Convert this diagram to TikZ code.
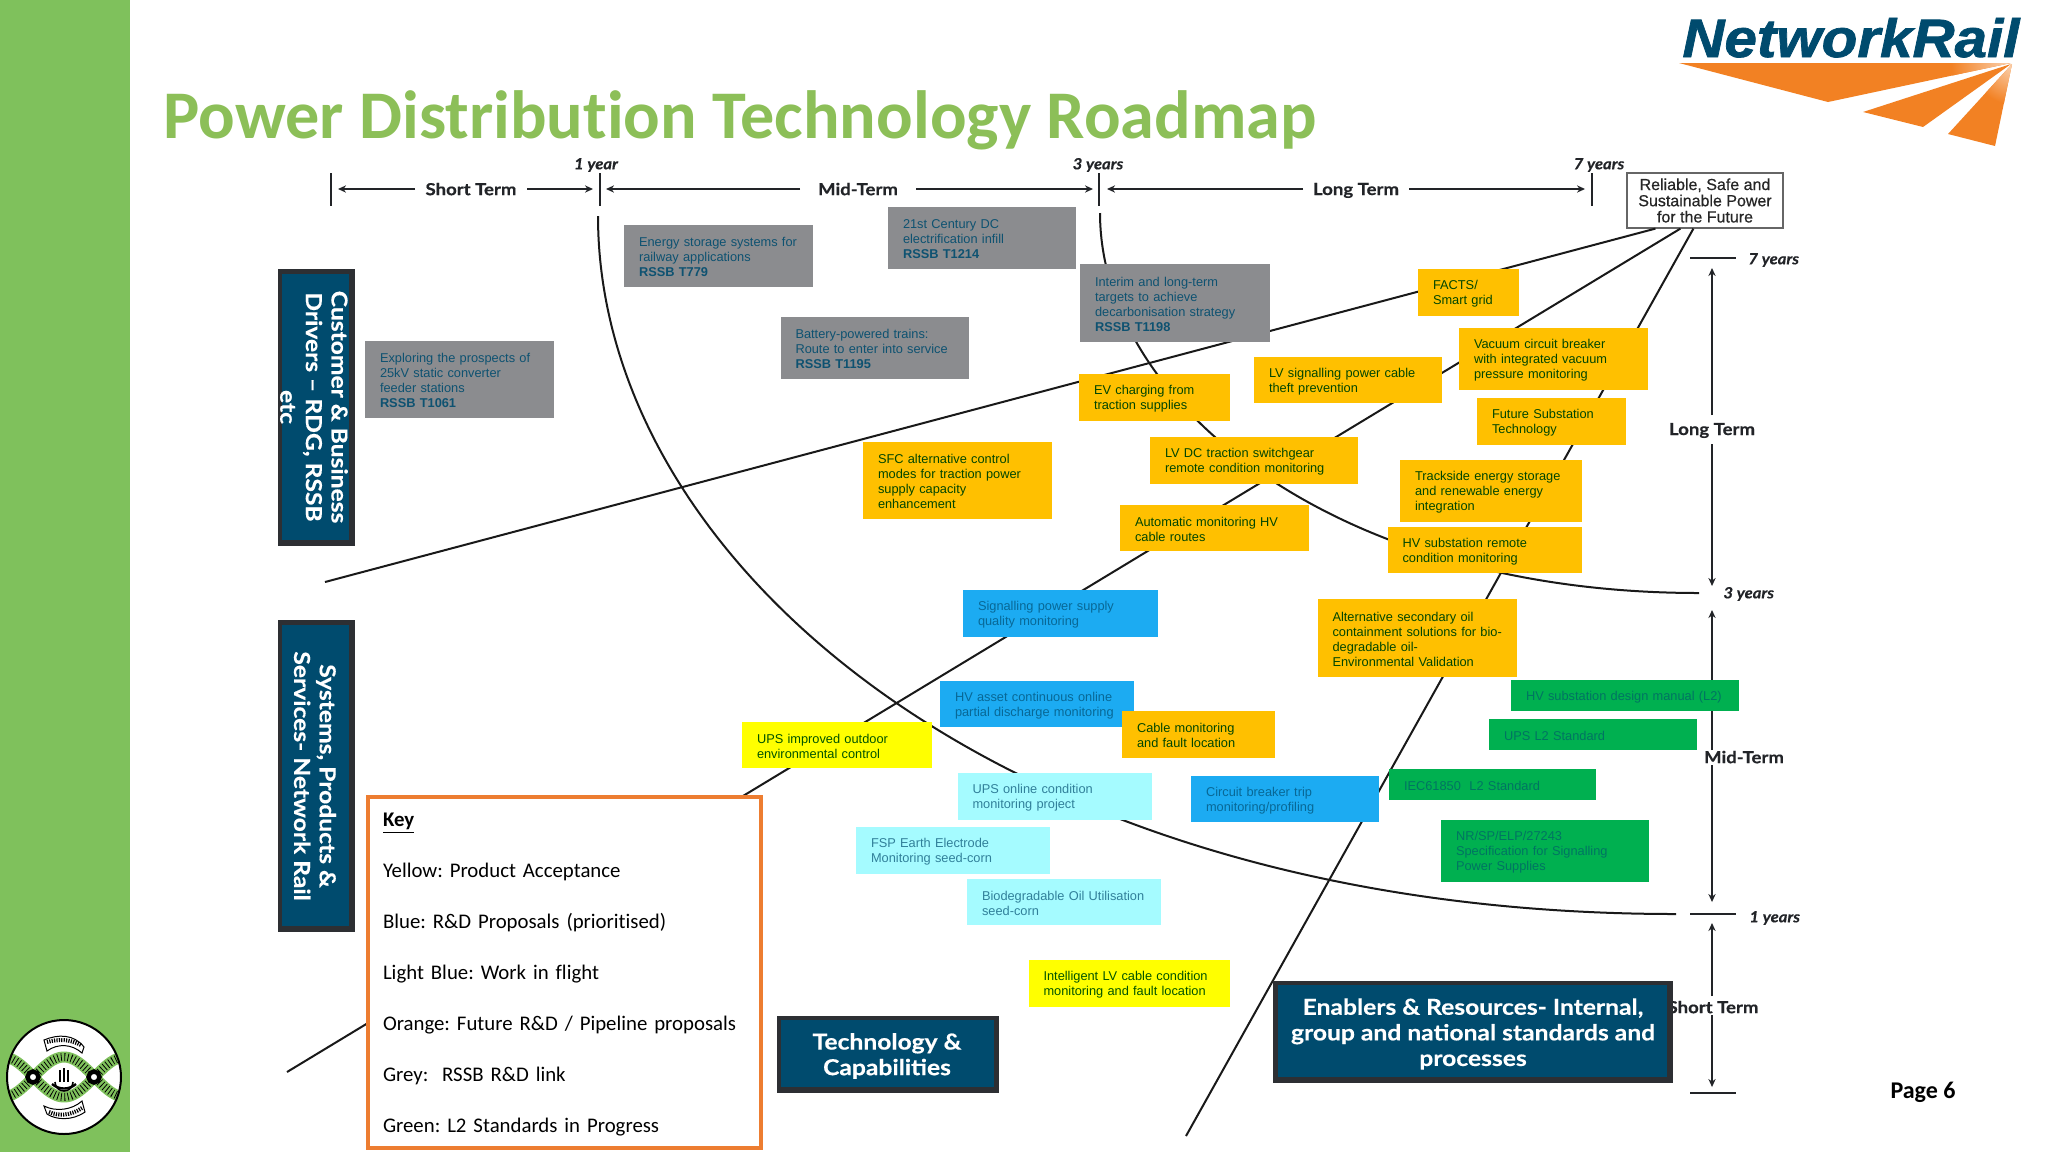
\documentclass[tikz,border=0pt]{standalone}
\usepackage{fontspec}
\usetikzlibrary{arrows.meta,calc}
\AtBeginDocument{\frenchspacing}
\setmainfont{Liberation Sans}
\newfontfamily\carl{Carlito}[Ligatures=NoCommon]
\newfontfamily\gill{Lato}[FakeStretch=1.12,FakeBold=0.4]
\newfontfamily\gilln{Lato}[FakeStretch=1.08,FakeBold=0.3]
\newfontfamily\nrfont{Liberation Sans}[FakeStretch=1.08,FakeBold=1.4]
\newfontfamily\relfont{Liberation Sans}[FakeBold=0.5]
\definecolor{side}{HTML}{7FC15C}
\definecolor{titlec}{HTML}{8CBF58}
\definecolor{nrblue}{HTML}{004B6E}
\definecolor{nrorange}{HTML}{F28123}
\definecolor{dkedge}{HTML}{2D2F33}
\definecolor{gbox}{HTML}{8B8C8F}
\definecolor{obox}{HTML}{FFC000}
\definecolor{bbox}{HTML}{1CABF2}
\definecolor{lbox}{HTML}{A5FBFF}
\definecolor{vbox}{HTML}{00B050}
\definecolor{ybox}{HTML}{FFFF00}
\definecolor{keyor}{HTML}{ED7D31}
\definecolor{axisc}{HTML}{222428}
\newcommand{\bx}[7]{\pgfmathsetmacro\bw{(#5-#3)*0.5}\pgfmathsetmacro\bh{(#6-#4)*0.5}\pgfmathsetmacro\tw{\bw-15}\node[#2,minimum width=\bw pt,minimum height=\bh pt,text width=\tw pt,inner xsep=7.5pt,inner ysep=0pt] (#1) at ({(#3+#5)/2},{(#4+#6)/2}) {#7};}
\newcommand{\upstrut}{\rule{0pt}{5.9pt}}
\tikzset{
 boxtext/.style={align=left,font=\fontsize{6.4}{7.5}\selectfont},
 greybox/.style={boxtext,fill=gbox,text=nrblue!90!gbox},
 orangebox/.style={boxtext,fill=obox,text=black!45!green!50!black},
 bluebox/.style={boxtext,fill=bbox,text=nrblue!70!bbox},
 lightbox/.style={boxtext,fill=lbox,text=nrblue!70!lbox},
 greenbox/.style={boxtext,fill=vbox,text=nrblue!60!vbox},
 yellowbox/.style={boxtext,fill=ybox,text=black!45!green!60!black},
 darkout/.style={fill=dkedge},
 darkin/.style={fill=nrblue},
 darktext/.style={text=white,align=center,inner sep=0pt,font=\gill\bfseries\fontsize{11}{12.8}\selectfont},
 termlab/.style={text=axisc,inner sep=0pt,text depth=0pt,font=\gill\bfseries\fontsize{8.3}{10}\selectfont},
 yearlab/.style={text=axisc,inner sep=0pt,font=\gilln\bfseries\itshape\fontsize{7.7}{9}\selectfont},
 road/.style={black!90,line width=1pt},
 axisl/.style={axisc,line width=1pt},
 axisa/.style={axisc,line width=1pt,-{Stealth[length=4pt,width=3.6pt]}},
 keybox/.style={draw=keyor,line width=1.6pt,fill=white,align=left,font=\carl\fontsize{10.4}{25.5}\selectfont},
}
\begin{document}
\begin{tikzpicture}[x=0.5pt,y=-0.5pt]
\useasboundingbox (0,0) rectangle (2048,1152);
\fill[white] (0,0) rectangle (2048,1152);
\fill[side] (0,0) rectangle (130,1152);
\node[anchor=base west,inner sep=0pt,text=titlec,font=\carl\bfseries\fontsize{34.1}{38}\selectfont] (title) at (163,138) {Power Distribution Technology Roadmap};
% logo
\node[anchor=base west,inner sep=0pt,text=nrblue,font=\nrfont\bfseries\itshape\fontsize{27}{30}\selectfont] (nrname) at (1682,57) {NetworkRail};
\fill[nrorange] (1679,63) -- (2011,63) -- (1828,102) -- cycle;
\fill[nrorange] (1863,112) -- (2011,64) -- (1923,127) -- cycle;
\fill[nrorange] (1948,134) -- (2012,64) -- (1995,146) -- cycle;
\begin{scope}
\clip (1679,63) -- (2011,63) -- (1828,102) -- cycle;
\shade[inner color=nrorange!35!white,outer color=nrorange] (2011,63) circle (60);
\end{scope}
\begin{scope}
\clip (1948,134) -- (2012,64) -- (1995,146) -- cycle;
\shade[inner color=nrorange!35!white,outer color=nrorange] (2012,64) circle (40);
\end{scope}
% badge
\begin{scope}
\fill[white] (64,1077) circle (57);
\clip (64,1077) circle (57);
\foreach \s in {1,-1}{
 \draw[side,line width=5.5pt] plot[domain=0:128,samples=60,smooth] (\x,{1077+\s*20*cos(180*(\x-64)/61)});
 \draw[black,line width=4pt,dash pattern=on .4pt off 1.3pt] plot[domain=0:128,samples=60,smooth] (\x,{1077+\s*20*cos(180*(\x-64)/61)});
}
\end{scope}
\draw[black,line width=1pt] (64,1077) circle (57);
\foreach \c in {33,94}{\draw[black,line width=2.2pt,fill=white] (\c,1077) circle (5.5);}
\draw[black,line width=.8pt,fill=white] (55,1082) arc[start angle=180,end angle=0,radius=9] ;
\draw[black,line width=1.2pt] (52,1084) to[bend right=40] (76,1084);
\draw[black,line width=1.3pt] (60,1070) -- (60,1082) (64,1068) -- (64,1082) (68,1070) -- (68,1082);
\draw[black,line width=.5pt,fill=white] (44,1040) .. controls (58,1034) and (74,1034) .. (84,1047) -- (82,1053) .. controls (72,1044) and (58,1043) .. (47,1051) -- cycle;
\draw[black,line width=2pt,dash pattern=on .6pt off .6pt] (47,1042) .. controls (58,1039) and (70,1039) .. (81,1045);
\draw[black,line width=.5pt,fill=white] (44,1106) .. controls (56,1112) and (72,1110) .. (82,1101) -- (85,1112) .. controls (72,1121) and (56,1120) .. (47,1114) -- cycle;
\draw[black,line width=2pt,dash pattern=on .6pt off .6pt] (49,1112) .. controls (58,1116) and (70,1116) .. (82,1108);
% connector coordinates
\coordinate (aend) at (325,582);
\coordinate (bend) at (287,1072);
\coordinate (cend) at (1186,1136);
\coordinate (c1s) at (598,216);
\coordinate (c1e) at (1676,914);
\coordinate (c2s) at (1100,213);
\coordinate (c2e) at (1699,593);
% reliable box
\node[draw=gray!80!black,line width=.6pt,fill=white,align=center,text=black!85,inner sep=0pt,minimum width=78pt,minimum height=27.5pt,font=\relfont\fontsize{8}{8.1}\selectfont] (rel) at (1705,200.5) {Reliable, Safe and\\Sustainable Power\\for the Future};
% roads
\draw[road] (rel.south west)++(29,0) -- (aend);
\draw[road] (rel.south west)++(54,0) -- (bend);
\draw[road] (rel.south west)++(67,0) -- (cend);
\draw[road] (c1s) .. controls (598,560) and (1000,914) .. (c1e);
\draw[road] (c2s) .. controls (1100,400) and (1330,593) .. (c2e);
% top axis
\node[termlab] (st) at (471,189) {Short Term};
\node[termlab] (mt) at (858,189) {Mid-Term};
\node[termlab] (lt) at (1356,189) {Long Term};
\node[yearlab] (y1) at (596,165) {1 year};
\node[yearlab] (y3) at (1098,165) {3 years};
\node[yearlab] (y7) at (1599,165) {7 years};
\foreach \n/\x in {ta/331,tb/600,tc/1099,td/1592}{
 \coordinate (\n1) at (\x,173); \coordinate (\n2) at (\x,206);
 \draw[axisl] (\n1) -- (\n2);}
\coordinate (p1) at (338,189); \coordinate (p2) at (415,189); \coordinate (p3) at (527,189); \coordinate (p4) at (593,189);
\coordinate (p5) at (606,189); \coordinate (p6) at (800,189); \coordinate (p7) at (916,189); \coordinate (p8) at (1093,189);
\coordinate (p9) at (1107,189); \coordinate (p10) at (1303,189); \coordinate (p11) at (1409,189); \coordinate (p12) at (1585,189);
\draw[axisa] (p2) -- (p1); \draw[axisa] (p3) -- (p4);
\draw[axisa] (p6) -- (p5); \draw[axisa] (p7) -- (p8);
\draw[axisa] (p10) -- (p9); \draw[axisa] (p11) -- (p12);
% right axis
\node[termlab] (vlt) at (1712,429) {Long Term};
\node[termlab] (vmt) at (1744,757) {Mid-Term};
\node[termlab] (vst) at (1713,1007) {Short Term};
\node[yearlab,anchor=west] (vy7) at (1748,260) {7 years};
\node[yearlab,anchor=west] (vy3) at (1723,594) {3 years};
\node[yearlab,anchor=west] (vy1) at (1749,918) {1 years};
\foreach \n/\y in {ua/258,ub/914,uc/1093}{
 \coordinate (\n1) at (1690,\y); \coordinate (\n2) at (1736,\y);
 \draw[axisl] (\n1) -- (\n2);}
\coordinate (q1) at (1712,268); \coordinate (q2) at (1712,415); \coordinate (q3) at (1712,444); \coordinate (q4) at (1712,586);
\coordinate (q5) at (1712,610); \coordinate (q6) at (1712,750); \coordinate (q7) at (1712,765); \coordinate (q8) at (1712,902);
\coordinate (q9) at (1712,923); \coordinate (q10) at (1712,996); \coordinate (q11) at (1712,1015); \coordinate (q12) at (1712,1087);
\draw[axisa] (q2) -- (q1); \draw[axisa] (q3) -- (q4);
\draw[axisa] (q6) -- (q5); \draw[axisa] (q7) -- (q8);
\draw[axisa] (q10) -- (q9); \draw[axisa] (q11) -- (q12);
% grey
\bx{t1061}{greybox}{365}{341}{554}{418}{\upstrut Exploring the prospects of\\25kV static converter\\feeder stations\\{\bfseries RSSB T1061}}
\bx{t779}{greybox}{624}{225}{813}{287}{\upstrut Energy storage systems for\\railway applications\\{\bfseries RSSB T779}}
\bx{t1195}{greybox}{780.5}{317}{969}{379}{\upstrut Battery-powered trains:\\Route to enter into service\\{\bfseries RSSB T1195}}
\bx{t1214}{greybox}{888}{207}{1076}{269}{\upstrut 21st Century DC\\electrification infill\\{\bfseries RSSB T1214}}
\bx{t1198}{greybox}{1080}{264}{1270}{342}{\upstrut Interim and long-term\\targets to achieve\\decarbonisation strategy\\{\bfseries RSSB T1198}}
% orange
\bx{facts}{orangebox}{1418}{269}{1519}{316}{\upstrut FACTS/\\Smart grid}
\bx{vac}{orangebox}{1459}{328}{1648}{390}{\upstrut Vacuum circuit breaker\\with integrated vacuum\\pressure monitoring}
\bx{lvsig}{orangebox}{1254}{357}{1442}{403}{\upstrut LV signalling power cable\\theft prevention}
\bx{ev}{orangebox}{1079}{374}{1230}{421}{\upstrut EV charging from\\traction supplies}
\bx{fut}{orangebox}{1477}{398}{1626}{445}{\upstrut Future Substation\\Technology}
\bx{lvdc}{orangebox}{1150}{437}{1358}{484}{\upstrut LV DC traction switchgear\\remote condition monitoring}
\bx{track}{orangebox}{1400}{460}{1582}{522}{\upstrut Trackside energy storage\\and renewable energy\\integration}
\bx{auto}{orangebox}{1120}{505}{1309}{551}{\upstrut Automatic monitoring HV\\cable routes}
\bx{hvrem}{orangebox}{1387.5}{527}{1582}{573}{\upstrut HV substation remote\\condition monitoring}
\bx{sfc}{orangebox}{863}{442}{1052}{519}{\upstrut SFC alternative control\\modes for traction power\\supply capacity\\enhancement}
\bx{alt}{orangebox}{1317.5}{599}{1517}{677}{\upstrut Alternative secondary oil\\containment solutions for bio-\\degradable oil-\\Environmental Validation}
\bx{hvasset}{bluebox}{940}{681}{1134}{727}{\upstrut HV asset continuous online\\partial discharge monitoring}
\bx{cable}{orangebox}{1122}{711}{1275}{758}{\upstrut Cable monitoring\\and fault location}
% green
\bx{hvd}{greenbox}{1511}{680}{1739}{711}{\upstrut HV substation design manual (L2)}
\bx{upsl}{greenbox}{1489}{719}{1697}{750}{\upstrut UPS L2 Standard}
\bx{iec}{greenbox}{1389}{769}{1596}{800}{\upstrut IEC61850\ \ L2 Standard}
\bx{nrsp}{greenbox}{1441}{820}{1648.5}{882}{\upstrut NR/SP/ELP/27243\\Specification for Signalling\\Power Supplies}
% blue
\bx{cbt}{bluebox}{1191}{776}{1379}{822}{\upstrut Circuit breaker trip\\monitoring/profiling}
\bx{sig}{bluebox}{963}{590}{1158}{637}{\upstrut Signalling power supply\\quality monitoring}
% yellow
\bx{upsi}{yellowbox}{742}{722}{931.5}{768}{\upstrut UPS improved outdoor\\environmental control}
\bx{lvcab}{yellowbox}{1028.5}{960}{1230}{1007}{\upstrut Intelligent LV cable condition\\monitoring and fault location}
% light blue
\bx{upso}{lightbox}{957.5}{773}{1152}{820}{\upstrut UPS online condition\\monitoring project}
\bx{fsp}{lightbox}{856}{827}{1050}{874}{\upstrut FSP Earth Electrode\\Monitoring seed-corn}
\bx{bio}{lightbox}{967}{879}{1161}{925}{\upstrut Biodegradable Oil Utilisation\\seed-corn}
% dark boxes
\bx{custo}{darkout}{278}{269}{355}{546}{}
\bx{custi}{darkin}{282}{274}{349}{540}{}
\node[darktext,rotate=-90] (custt) at (314,407) {Customer \& Business\\Drivers – RDG, RSSB\\etc};
\bx{syso}{darkout}{278}{620}{355}{932}{}
\bx{sysi}{darkin}{282}{625}{349}{926}{}
\node[darktext,rotate=-90] (syst) at (315,776) {Systems, Products \&\\Services- Network Rail};
\bx{techo}{darkout}{777}{1016}{999}{1093}{}
\bx{techi}{darkin}{781}{1020}{994}{1087}{}
\node[darktext] (techt) at (887,1056) {Technology \&\\Capabilities};
\bx{enao}{darkout}{1273}{981}{1673}{1083}{}
\bx{enai}{darkin}{1278}{985}{1667}{1077}{}
\node[darktext] (enat) at (1473,1034) {Enablers \& Resources- Internal,\\group and national standards and\\processes};
% key
\bx{key}{keybox}{368}{797}{761}{1148}{\rule{0pt}{8.5pt}{\bfseries\underline{Key}}\\Yellow: Product Acceptance\\Blue: R\&D Proposals (prioritised)\\Light Blue: Work in flight\\Orange: Future R\&D / Pipeline proposals\\Grey:\ \ RSSB R\&D link\\Green: L2 Standards in Progress}
\node[anchor=base,inner sep=0pt,font=\carl\bfseries\fontsize{12}{14}\selectfont] (page) at (1923,1098) {Page 6};
\end{tikzpicture}
\end{document}
